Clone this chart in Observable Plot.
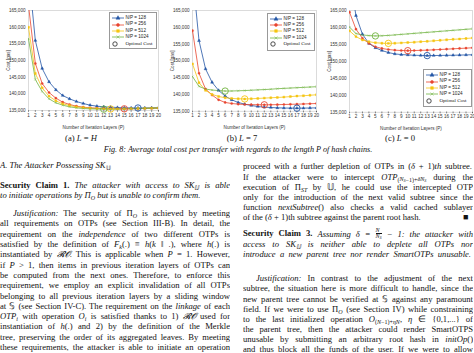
<!DOCTYPE html>
<html><head><meta charset="utf-8">
<script src="https://cdn.jsdelivr.net/npm/d3@7"></script>
<script src="https://cdn.jsdelivr.net/npm/@observablehq/plot@0.6"></script>
<style>
body{margin:0;width:474px;height:353px;overflow:hidden;background:#fff;position:relative;font-family:"Liberation Serif","Times New Roman",serif;color:#111}
.ln{position:absolute;height:10px;line-height:10px;font-size:8.6px;white-space:nowrap;overflow:visible}
.j{text-align:justify;text-align-last:justify;white-space:normal;overflow:hidden;height:11px}
sub{font-size:70%;vertical-align:-0.25em;line-height:0}
.cap{position:absolute;font-size:8.6px;line-height:10px;white-space:nowrap;transform:translateX(-50%)}
.leg{position:absolute;border:0.6px solid #999;background:#fff;font-family:"Liberation Sans",Arial,sans-serif;font-size:4.6px;color:#222;box-sizing:border-box;padding:2px 1px 0 2px}
.leg .row{height:6.4px;line-height:6.4px;display:flex;align-items:center;white-space:nowrap}
.leg svg{width:12px;height:6px;margin-right:1.5px;flex:none}
.chart{position:absolute;top:0}
</style></head>
<body>
<div id="charts"></div>
<script>
// ---- data ----
const layers = [1,2,3,4,5,6,7,8,9,10,11,12,13,14,15,16,17,18,19,20];
const ratioLabels = ["N/P = 128","N/P = 256","N/P = 512","N/P = 1024"];
const seriesColors = ["#2356a6","#e8452f","#f6c511","#70b340"];
const seriesSymbols = ["triangle","circle","square","times"];
const costTicks = [135000,140000,145000,150000,155000,160000,165000];

// (a) L = H
const costH128  = [177000,156000,147600,143600,141200,139500,138500,137700,137100,136600,136300,136100,136000,135900,135800,135780,135750,135780,135800,135850];
const costH256  = [166500,149100,143100,140400,138700,137500,136800,136300,136000,135800,135700,135600,135550,135520,135500,135520,135550,135600,135650,135700];
const costH512  = [160000,146100,141800,139300,137900,137000,136500,136100,135900,135700,135600,135500,135450,135470,135500,135550,135600,135650,135700,135750];
const costH1024 = [156500,144300,140700,138500,137300,136600,136100,135800,135600,135500,135450,135400,135420,135450,135500,135550,135600,135650,135700,135750];
// (b) L = 7
const cost7_128  = [176000,156000,147600,143600,141200,139500,138400,137600,137100,136700,136400,136200,136100,136000,135950,135920,135900,135920,135950,136000];
const cost7_256  = [159000,146300,141600,139800,138400,137600,137300,137100,137000,136950,136920,136900,136920,136950,137000,137050,137100,137150,137220,137300];
const cost7_512  = [149100,143500,141200,140000,139400,139000,138800,138700,138650,138700,138800,138900,139000,139100,139200,139350,139500,139600,139750,139900];
const cost7_1024 = [145300,142400,141600,141300,141150,141000,141020,141080,141150,141250,141350,141450,141550,141700,141800,141900,142000,142100,142200,142300];
// (c) L = 0
const cost0_128  = [175000,163500,158000,155300,154000,153200,152600,152200,152000,151900,151800,151750,151700,151720,151750,151780,151800,151850,151900,151950];
const cost0_256  = [164500,159500,156800,155300,154300,153800,153500,153300,153200,153150,153200,153250,153300,153400,153500,153600,153700,153800,153900,154000];
const cost0_512  = [159000,157300,156300,155800,155500,155350,155300,155350,155450,155550,155650,155800,155900,156050,156200,156350,156500,156600,156750,156900];
const cost0_1024 = [160100,158200,157800,157600,157500,157550,157650,157800,157950,158100,158250,158400,158550,158700,158850,159000,159150,159300,159450,159600];

const panels = [
  {series:[costH128,costH256,costH512,costH1024], left:0,   width:160, ml:28, mr:2, mb:22, legend:{x:109,y:12,w:48,h:37}},
  {series:[cost7_128,cost7_256,cost7_512,cost7_1024], left:155, width:165, ml:37, mr:4, mb:21.3, legend:{x:267,y:12.5,w:48,h:38}},
  {series:[cost0_128,cost0_256,cost0_512,cost0_1024], left:310, width:164, ml:39, mr:2, mb:20.3, legend:{x:423,y:69,w:49,h:38}}
];

const host = document.getElementById("charts");
panels.forEach(p => {
  const rows = [];
  p.series.forEach((vals,k) => vals.forEach((v,i) => rows.push({P:layers[i], cost:v, series:ratioLabels[k]})));
  const optima = p.series.map((vals,k) => { const i = d3.minIndex(vals); return {P:layers[i], cost:vals[i], series:ratioLabels[k]}; });
  const chart = Plot.plot({
    width:p.width, height:132, marginLeft:p.ml, marginRight:p.mr, marginTop:10, marginBottom:p.mb,
    style:{background:"transparent", fontFamily:'"Liberation Sans", Arial, sans-serif', fontSize:"4.6px", color:"#333", overflow:"visible"},
    x:{domain:[1,20], ticks:layers, tickFormat:d=>String(d), tickSize:1.5, tickPadding:1.5, label:"Number of Iteration Layers (P)", labelAnchor:"center", labelArrow:"none", labelOffset:18},
    y:{domain:[135000,165000], ticks:costTicks, tickFormat:d3.format(","), tickSize:0, tickPadding:3, label:"Cost [gas]", labelAnchor:"center", labelArrow:"none", labelOffset:22},
    color:{domain:ratioLabels, range:seriesColors},
    symbol:{domain:ratioLabels, range:seriesSymbols},
    marks:[
      Plot.frame({stroke:"#c4c4c4", strokeWidth:0.6}),
      Plot.line(rows, {x:"P", y:"cost", z:"series", stroke:"series", strokeWidth:0.8, clip:true}),
      Plot.dot(rows, {x:"P", y:"cost", fill:"series", stroke:"series", symbol:"series", r:1.1, strokeWidth:0.4, clip:true}),
      Plot.dot(optima, {x:"P", y:"cost", stroke:"series", fill:"none", r:3.2, strokeWidth:0.9})
    ]
  });
  chart.classList.add("chart");
  chart.style.left = p.left + "px";
  host.appendChild(chart);

  // legend
  const lg = document.createElement("div");
  lg.className = "leg";
  Object.assign(lg.style, {left:p.legend.x+"px", top:p.legend.y+"px", width:p.legend.w+"px", height:p.legend.h+"px"});
  const symTypes = [d3.symbolTriangle, d3.symbolCircle, d3.symbolSquare, d3.symbolTimes];
  ratioLabels.forEach((lab,k) => {
    const row = document.createElement("div"); row.className = "row";
    const s = d3.create("svg").attr("viewBox","0 0 12 6");
    s.append("line").attr("x1",0).attr("x2",12).attr("y1",3).attr("y2",3).attr("stroke",seriesColors[k]).attr("stroke-width",0.8);
    s.append("path").attr("transform","translate(6,3)").attr("d", d3.symbol(symTypes[k], 7)()).attr("fill",seriesColors[k]).attr("stroke",seriesColors[k]).attr("stroke-width",0.5);
    row.appendChild(s.node());
    row.appendChild(document.createTextNode(lab));
    lg.appendChild(row);
  });
  const row = document.createElement("div"); row.className = "row";
  const s = d3.create("svg").attr("viewBox","0 0 12 6");
  s.append("circle").attr("cx",3).attr("cy",3).attr("r",2.2).attr("fill","none").attr("stroke","#222").attr("stroke-width",0.8);
  row.appendChild(s.node());
  const t = document.createElement("span"); t.textContent = "Optimal Cost"; t.style.fontFamily = '"Liberation Serif",serif'; t.style.fontSize = "5px";
  row.appendChild(t);
  lg.appendChild(row);
  host.appendChild(lg);
});
</script>

<div class="cap" style="left:81px;top:133px">(a) <i>L</i> = <i>H</i></div>
<div class="cap" style="left:242px;top:133px">(b) <i>L</i> = 7</div>
<div class="cap" style="left:400px;top:133px">(c) <i>L</i> = 0</div>
<div class="cap" style="left:238px;top:144.5px;font-style:italic;font-size:8.2px">Fig. 8: Average total cost per transfer with regards to the length <i>P</i> of hash chains.</div>

<!-- left column -->
<div class="ln" style="left:0;top:160px"><i>A. The Attacker Possessing SK</i><sub>𝕌</sub></div>
<div class="ln j" style="left:0;top:180px;width:230px"><b>Security Claim 1.</b> <i>The attacker with access to SK<sub>𝕌</sub> is able</i></div>
<div class="ln" style="left:0;top:190px"><i>to initiate operations by Π<sub>O</sub> but is unable to confirm them.</i></div>
<div class="ln j" style="left:13px;top:208px;width:217px"><i>Justification:</i> The security of Π<sub><i>O</i></sub> is achieved by meeting</div>
<div class="ln j" style="left:0;top:218.3px;width:230px">all requirements on OTPs (see Section III-B). In detail, the</div>
<div class="ln j" style="left:0;top:228.5px;width:230px">requirement on the <i>independence</i> of two different OTPs is</div>
<div class="ln j" style="left:0;top:239px;width:230px">satisfied by the definition of <i>F<sub>k</sub></i>(.) ≡ <i>h</i>(<i>k</i> ‖ .), where <i>h</i>(.) is</div>
<div class="ln j" style="left:0;top:249px;width:230px">instantiated by <i>𝓡𝓞</i>. This is applicable when <i>P</i> = 1. However,</div>
<div class="ln j" style="left:0;top:259.5px;width:230px">if <i>P</i> &gt; 1, then items in previous iteration layers of OTPs can</div>
<div class="ln j" style="left:0;top:270px;width:230px">be computed from the next ones. Therefore, to enforce this</div>
<div class="ln j" style="left:0;top:280px;width:230px">requirement, we employ an explicit invalidation of all OTPs</div>
<div class="ln j" style="left:0;top:290.5px;width:230px">belonging to all previous iteration layers by a sliding window</div>
<div class="ln j" style="left:0;top:300.7px;width:230px">at 𝕊 (see Section IV-C). The requirement on the <i>linkage</i> of each</div>
<div class="ln j" style="left:0;top:310.7px;width:230px"><i>OTP<sub>i</sub></i> with operation <i>O<sub>i</sub></i> is satisfied thanks to 1) <i>𝓡𝓞</i> used for</div>
<div class="ln j" style="left:0;top:321px;width:230px">instantiation of <i>h</i>(.) and 2) by the definition of the Merkle</div>
<div class="ln j" style="left:0;top:331.5px;width:230px">tree, preserving the order of its aggregated leaves. By meeting</div>
<div class="ln j" style="left:0;top:341.7px;width:230px">these requirements, the attacker is able to initiate an operation</div>
<div class="ln j" style="left:0;top:351.8px;width:230px"><i>O<sub>i</sub></i> in the first stage of Π<sub><i>O</i></sub> but is unable to use an <i>OTP<sub>i</sub></i></div>

<!-- right column -->
<div class="ln j" style="left:243px;top:161px;width:229px">proceed with a further depletion of OTPs in (<i>δ</i> + 1)<i>th</i> subtree.</div>
<div class="ln j" style="left:243px;top:171.7px;width:230px">If the attacker were to intercept <i>OTP</i><sub>(<i>N<sub>S</sub></i>−1)+<i>δN<sub>S</sub></i></sub> during the</div>
<div class="ln j" style="left:243px;top:181.7px;width:230px">execution of Π<sub><i>ST</i></sub> by 𝕌, he could use the intercepted OTP</div>
<div class="ln j" style="left:243px;top:191.7px;width:230px">only for the introduction of the next valid subtree since the</div>
<div class="ln j" style="left:243px;top:201.7px;width:230px">function <i>nextSubtree</i>() also checks a valid cached sublayer</div>
<div class="ln" style="left:243px;top:211.7px">of the (<i>δ</i> + 1)th subtree against the parent root hash.</div>
<div class="ln" style="left:463px;top:211.7px;font-size:9px">■</div>
<div class="ln j" style="left:243px;top:228.3px;width:230px"><b>Security Claim 3.</b> <i>Assuming δ = <span style="display:inline-block;vertical-align:-0.3em;text-align:center;font-size:6px;line-height:5px"><span style="display:block;border-bottom:0.5px solid #111">N</span><span style="display:block">N<sub>S</sub></span></span> − 1: the attacker with</i></div>
<div class="ln j" style="left:243px;top:239px;width:230px"><i>access to SK<sub>𝕌</sub> is neither able to deplete all OTPs nor</i></div>
<div class="ln j" style="left:243px;top:249px;width:228px"><i>introduce a new parent tree nor render SmartOTPs unusable.</i></div>
<div class="ln j" style="left:256px;top:273.3px;width:217px"><i>Justification:</i> In contrast to the adjustment of the next</div>
<div class="ln j" style="left:243px;top:283.3px;width:230px">subtree, the situation here is more difficult to handle, since the</div>
<div class="ln j" style="left:243px;top:294px;width:230px">new parent tree cannot be verified at 𝕊 against any paramount</div>
<div class="ln j" style="left:243px;top:304px;width:230px">field. If we were to use Π<sub><i>O</i></sub> (see Section IV) while constraining</div>
<div class="ln j" style="left:243px;top:314px;width:230px">to the last initialized operation <i>O</i><sub>(<i>N</i>−1)+<i>ηN</i></sub>, <i>η</i> ∈ {0,1,...} of</div>
<div class="ln j" style="left:243px;top:324px;width:230px">the parent tree, then the attacker could render SmartOTPS</div>
<div class="ln j" style="left:243px;top:334px;width:230px">unusable by submitting an arbitrary root hash in <i>initOp</i>()</div>
<div class="ln j" style="left:243px;top:344.3px;width:230px">and thus block all the funds of the user. If we were to allow</div>
<script>
// shrink any justified line whose natural width would wrap
document.querySelectorAll(".j").forEach(el => {
  let fs = 8.6;
  while (el.scrollHeight > 12 && fs > 6) { fs -= 0.1; el.style.fontSize = fs + "px"; }
});
</script>
</body></html>
